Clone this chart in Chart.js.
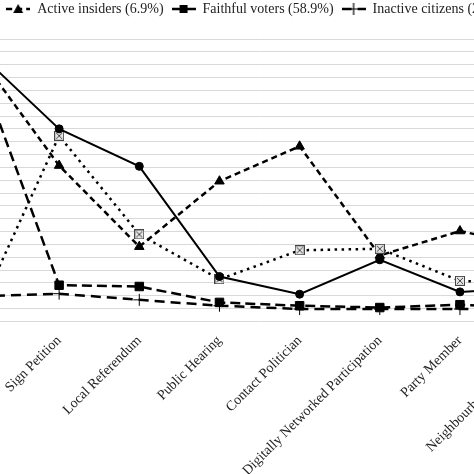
<!DOCTYPE html>
<html>
<head>
<meta charset="utf-8">
<style>
  html, body { margin: 0; padding: 0; background: #fff; overflow: hidden; width: 474px; height: 474px; }
  #wrap { position: absolute; left: -42px; top: -28px; width: 597px; height: 510px; }
</style>
</head>
<body>
<div id="wrap"><canvas id="chart"></canvas></div>
<script src="https://cdn.jsdelivr.net/npm/chart.js"></script>
<script>
// Data (share of each class doing the activity)
const categories = ['Vote', 'Sign Petition', 'Local Referendum', 'Public Hearing', 'Contact Politician',
                    'Digitally Networked Participation', 'Party Member', 'Neighbourhood Association'];
const seriesNames = ['Conventional participants (5.3%)', 'Digitally networked activists (4.6%)',
                     'Active insiders (6.9%)', 'Faithful voters (58.9%)', 'Inactive citizens (24.3%)'];
const conventional = [1.045, 0.750, 0.604, 0.175, 0.106, 0.240, 0.115, 0.133];
const digital      = [0.040, 0.723, 0.339, 0.164, 0.277, 0.283, 0.158, 0.145];
const activeInsiders   = [1.034, 0.607, 0.291, 0.546, 0.682, 0.257, 0.352, 0.285];
const faithfulVoters   = [0.990, 0.141, 0.136, 0.074, 0.061, 0.054, 0.065, 0.052];
const inactiveCitizens = [0.098, 0.108, 0.084, 0.061, 0.048, 0.048, 0.048, 0.048];
const yTicks = { min: 0, max: 1.1, step: 0.05 };

const FONT = "'Liberation Serif', 'Times New Roman', serif";

// boxed X marker
function crossBox() {
    const c = document.createElement('canvas');
    c.width = 10; c.height = 10;
    const g = c.getContext('2d');
    g.fillStyle = '#e6e6e6';
    g.fillRect(0.5, 0.5, 9, 9);
    g.strokeStyle = '#444';
    g.lineWidth = 1;
    g.strokeRect(0.5, 0.5, 9, 9);
    g.beginPath();
    g.moveTo(2, 2); g.lineTo(8, 8);
    g.moveTo(8, 2); g.lineTo(2, 8);
    g.stroke();
    return c;
}

// legend icon: a short piece of line with the marker in the middle
function legendIcon(dash, marker) {
    const c = document.createElement('canvas');
    c.width = 24; c.height = 12;
    const g = c.getContext('2d');
    g.strokeStyle = '#000';
    g.fillStyle = '#000';
    g.lineWidth = 2.5;
    g.setLineDash(dash);
    g.beginPath();
    g.moveTo(0, 6); g.lineTo(24, 6);
    g.stroke();
    g.setLineDash([]);
    if (marker === 'circle') {
        g.beginPath(); g.arc(12, 6, 4, 0, Math.PI * 2); g.fill();
    } else if (marker === 'triangle') {
        g.beginPath(); g.moveTo(12, 1); g.lineTo(17, 10); g.lineTo(7, 10); g.closePath(); g.fill();
    } else if (marker === 'rect') {
        g.fillRect(8, 2, 8, 8);
    } else if (marker === 'cross') {
        g.lineWidth = 1.2;
        g.beginPath(); g.moveTo(12, 0); g.lineTo(12, 12); g.moveTo(6, 6); g.lineTo(18, 6); g.stroke();
    } else {
        g.drawImage(crossBox(), 7, 1);
    }
    return c;
}

const boxX = crossBox();
const icons = [
    legendIcon([], 'circle'),
    legendIcon([2.5, 4.5], 'box'),
    legendIcon([6, 4], 'triangle'),
    legendIcon([10, 5], 'rect'),
    legendIcon([10, 6], 'cross')
];

// a bit more room between legend and plot
const legendGap = {
    id: 'legendGap',
    beforeInit(chart) {
        const fit = chart.legend.fit;
        chart.legend.fit = function () {
            fit.bind(chart.legend)();
            this.height += 13;
        };
    }
};

function lineSet(label, data, dash, width, style, radius) {
    return {
        label: label,
        data: data,
        borderColor: '#000',
        backgroundColor: '#000',
        borderWidth: width,
        borderDash: dash,
        pointStyle: style,
        pointRadius: radius,
        pointHoverRadius: radius,
        pointBorderWidth: 1,
        tension: 0,
        fill: false
    };
}

document.addEventListener('DOMContentLoaded', function () {
    const ctx = document.getElementById('chart').getContext('2d');
    new Chart(ctx, {
        type: 'line',
        data: {
            labels: categories,
            datasets: [
                lineSet(seriesNames[0], conventional, [], 2, 'circle', 4),
                lineSet(seriesNames[1], digital, [2.5, 4.5], 2.5, boxX, 5),
                lineSet(seriesNames[2], activeInsiders, [6, 4], 2.5, 'triangle', 5.5),
                lineSet(seriesNames[3], faithfulVoters, [10, 5], 2.5, 'rect', 6),
                lineSet(seriesNames[4], inactiveCitizens, [10, 6], 2.5, 'cross', 6)
            ]
        },
        options: {
            responsive: true,
            maintainAspectRatio: false,
            animation: false,
            layout: { padding: 0 },
            plugins: {
                tooltip: { enabled: false },
                legend: {
                    position: 'top',
                    fullSize: false,
                    labels: {
                        usePointStyle: true,
                        pointStyleWidth: 24,
                        padding: 8,
                        color: '#222',
                        font: { family: FONT, size: 14 },
                        generateLabels(chart) {
                            const items = Chart.defaults.plugins.legend.labels.generateLabels(chart);
                            items.forEach((it, i) => { it.pointStyle = icons[i]; });
                            return items;
                        }
                    }
                }
            },
            scales: {
                x: {
                    grid: { display: false },
                    border: { display: false },
                    ticks: {
                        minRotation: 45,
                        maxRotation: 45,
                        autoSkip: false,
                        padding: 3,
                        color: '#222',
                        font: { family: FONT, size: 14 }
                    }
                },
                y: {
                    min: yTicks.min,
                    max: yTicks.max,
                    border: { display: false },
                    grid: { color: '#d9d9d9', lineWidth: 1, drawTicks: false },
                    ticks: { display: false, stepSize: yTicks.step }
                }
            }
        },
        plugins: [legendGap]
    });
});
</script>
</body>
</html>
